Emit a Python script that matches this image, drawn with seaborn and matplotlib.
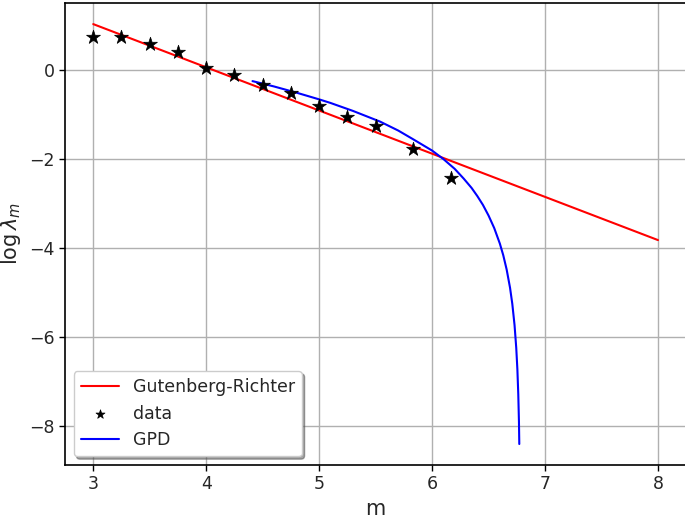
import pandas as pd
import matplotlib
matplotlib.use("Agg")
import matplotlib.pyplot as plt
import seaborn as sns

# data
gr_m = [3.0, 8.0]
gr_log = [1.03, -3.82]

data_m = [3.0, 3.25, 3.5, 3.75, 4.0, 4.25, 4.5, 4.75, 5.0, 5.25, 5.5, 5.83, 6.17]
data_log = [0.73, 0.73, 0.58, 0.40, 0.05, -0.11, -0.34, -0.52, -0.81, -1.05, -1.26, -1.77, -2.42]

gpd_m = [4.41, 4.6, 4.8, 5.0, 5.1, 5.3, 5.54, 5.7, 5.835, 6.0, 6.1, 6.2, 6.28,
         6.35, 6.4, 6.45, 6.5, 6.55, 6.6, 6.63, 6.66, 6.69, 6.71, 6.73, 6.745,
         6.755, 6.763, 6.769, 6.772]
gpd_log = [-0.25, -0.37, -0.51, -0.66, -0.74, -0.92, -1.16, -1.36, -1.56, -1.81,
           -2.00, -2.22, -2.44, -2.65, -2.83, -3.03, -3.27, -3.55, -3.90, -4.16,
           -4.48, -4.89, -5.25, -5.73, -6.24, -6.72, -7.28, -7.90, -8.40]

gr = pd.DataFrame({"m": gr_m, "log": gr_log})
pts = pd.DataFrame({"m": data_m, "log": data_log})
gpd = pd.DataFrame({"m": gpd_m, "log": gpd_log})

sns.set_style("ticks", {"axes.grid": True, "grid.color": "#b0b0b0",
                        "axes.edgecolor": "black"})
plt.rcParams["font.family"] = ["DejaVu Sans"]

fig = plt.figure(figsize=(6.85, 5.19), dpi=100)
ax = fig.add_axes([0.0949, 0.104, 0.9069, 0.890])

sns.lineplot(data=gr, x="m", y="log", color="red", lw=1.5,
             estimator=None, sort=False, ax=ax, label="Gutenberg-Richter")
sns.scatterplot(data=pts, x="m", y="log", marker="*", s=110, color="black",
                edgecolor="black", linewidth=0.5, ax=ax, label="data", zorder=3)
sns.lineplot(data=gpd, x="m", y="log", color="blue", lw=1.5,
             estimator=None, sort=False, ax=ax, label="GPD")

ax.set_xticks([3, 4, 5, 6, 7, 8])
ax.set_yticks([-8, -6, -4, -2, 0])
ax.tick_params(labelsize=12.5, length=4, width=1, color="black")
ax.grid(True, color="#b0b0b0", lw=1)
for s in ax.spines.values():
    s.set_linewidth(1.2)
    s.set_color("black")

ax.set_xlabel("m", fontsize=15)
ax.set_ylabel(r"$\log\lambda_m$", fontsize=15)

ax.legend(loc="lower left", fontsize=12.5, shadow=True, fancybox=True,
          framealpha=1, markerscale=0.65, edgecolor="#cccccc",
          handlelength=2.2)

fig.savefig("out.png", dpi=100)
